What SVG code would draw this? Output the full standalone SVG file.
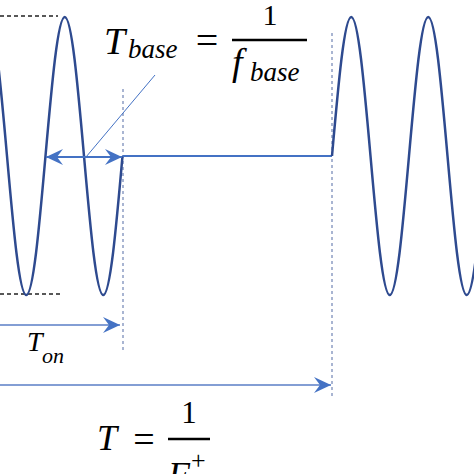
<svg xmlns="http://www.w3.org/2000/svg" width="474" height="474" viewBox="0 0 474 474">
<style>
.wave{fill:none;stroke:#2E4A8F;stroke-width:2.5}
.flat{fill:none;stroke:#4472C4;stroke-width:2}
.arr{fill:none;stroke:#4472C4;stroke-width:2}
.thin{fill:none;stroke:#5A7EC6;stroke-width:1.5}
.lead{fill:none;stroke:#4472C4;stroke-width:1}
.vdash{fill:none;stroke:#8D9DC4;stroke-width:1.5;stroke-dasharray:3 3}
.kdash{fill:none;stroke:#222;stroke-width:1.3;stroke-dasharray:4 3}
.m{font-family:"Liberation Serif","DejaVu Serif",serif;fill:#000}
.i{font-style:italic}
.bar{stroke:#000;stroke-width:2.5}
</style>
<defs>
<marker id="ah" markerUnits="userSpaceOnUse" markerWidth="20" markerHeight="20" viewBox="-18 -9 20 18" refX="0" refY="0" orient="auto-start-reverse">
<path d="M0,0 L-17,-8 L-11,0 L-17,8 Z" fill="#4472C4"/>
</marker>
</defs>
<g id="guides">
<line class="kdash" x1="0" y1="16" x2="58" y2="16"/>
<line class="kdash" x1="0" y1="294" x2="60" y2="294"/>
<line class="vdash" x1="123" y1="89" x2="123" y2="350"/>
<line class="vdash" x1="332" y1="33" x2="332" y2="398"/>
</g>
<g id="signal">
<path class="wave" d="M-12.25,17 c6.893,0 12.815,66 19.25,139 c6.435,73 12.357,139 19.25,139 c6.893,0 12.815,-66 19.25,-139 c6.435,-73 12.357,-139 19.25,-139 c6.893,0 12.815,66 19.25,139 c6.435,73 12.357,139 19.25,139 c6.893,0 12.815,-66 19.25,-139"/>
<line class="flat" x1="122.5" y1="156" x2="332" y2="156"/>
<path class="wave" d="M332,156 c6.435,-73 12.357,-139 19.25,-139 c6.893,0 12.815,66 19.25,139 c6.435,73 12.357,139 19.25,139 c6.893,0 12.815,-66 19.25,-139 c6.435,-73 12.357,-139 19.25,-139 c6.893,0 12.815,66 19.25,139 c6.435,73 12.357,139 19.25,139 c6.893,0 12.815,-66 19.25,-139"/>
</g>
<g id="connectors">
<line class="arr" x1="46" y1="157" x2="122" y2="157" marker-start="url(#ah)" marker-end="url(#ah)"/>
<line class="lead" x1="86" y1="157" x2="155" y2="75"/>
<line class="thin" x1="0" y1="325" x2="120" y2="325" marker-end="url(#ah)"/>
<line class="thin" x1="0" y1="385" x2="331" y2="385" marker-end="url(#ah)"/>
</g>
<g id="label-tbase">
<text class="m i" x="104" y="54" font-size="38">T</text>
<text class="m i" x="128" y="58" font-size="27">base</text>
<text class="m" x="207" y="54" font-size="40" text-anchor="middle">=</text>
<text class="m" x="270" y="25" font-size="30" text-anchor="middle">1</text>
<line class="bar" x1="232" y1="40" x2="307" y2="40"/>
<text class="m i" x="232" y="75" font-size="38">f</text>
<text class="m i" x="250" y="81" font-size="27">base</text>
</g>
<g id="label-ton">
<text class="m i" x="27" y="351" font-size="28">T</text>
<text class="m i" x="42" y="363" font-size="22">on</text>
</g>
<g id="label-t">
<text class="m i" x="97" y="450" font-size="36">T</text>
<text class="m" x="144" y="452" font-size="38" text-anchor="middle">=</text>
<text class="m" x="189" y="423" font-size="31" text-anchor="middle">1</text>
<line class="bar" x1="168" y1="439" x2="210" y2="439"/>
<text class="m i" x="168" y="487" font-size="36">F</text>
<text class="m" x="191" y="469" font-size="26">+</text>
</g>
</svg>
